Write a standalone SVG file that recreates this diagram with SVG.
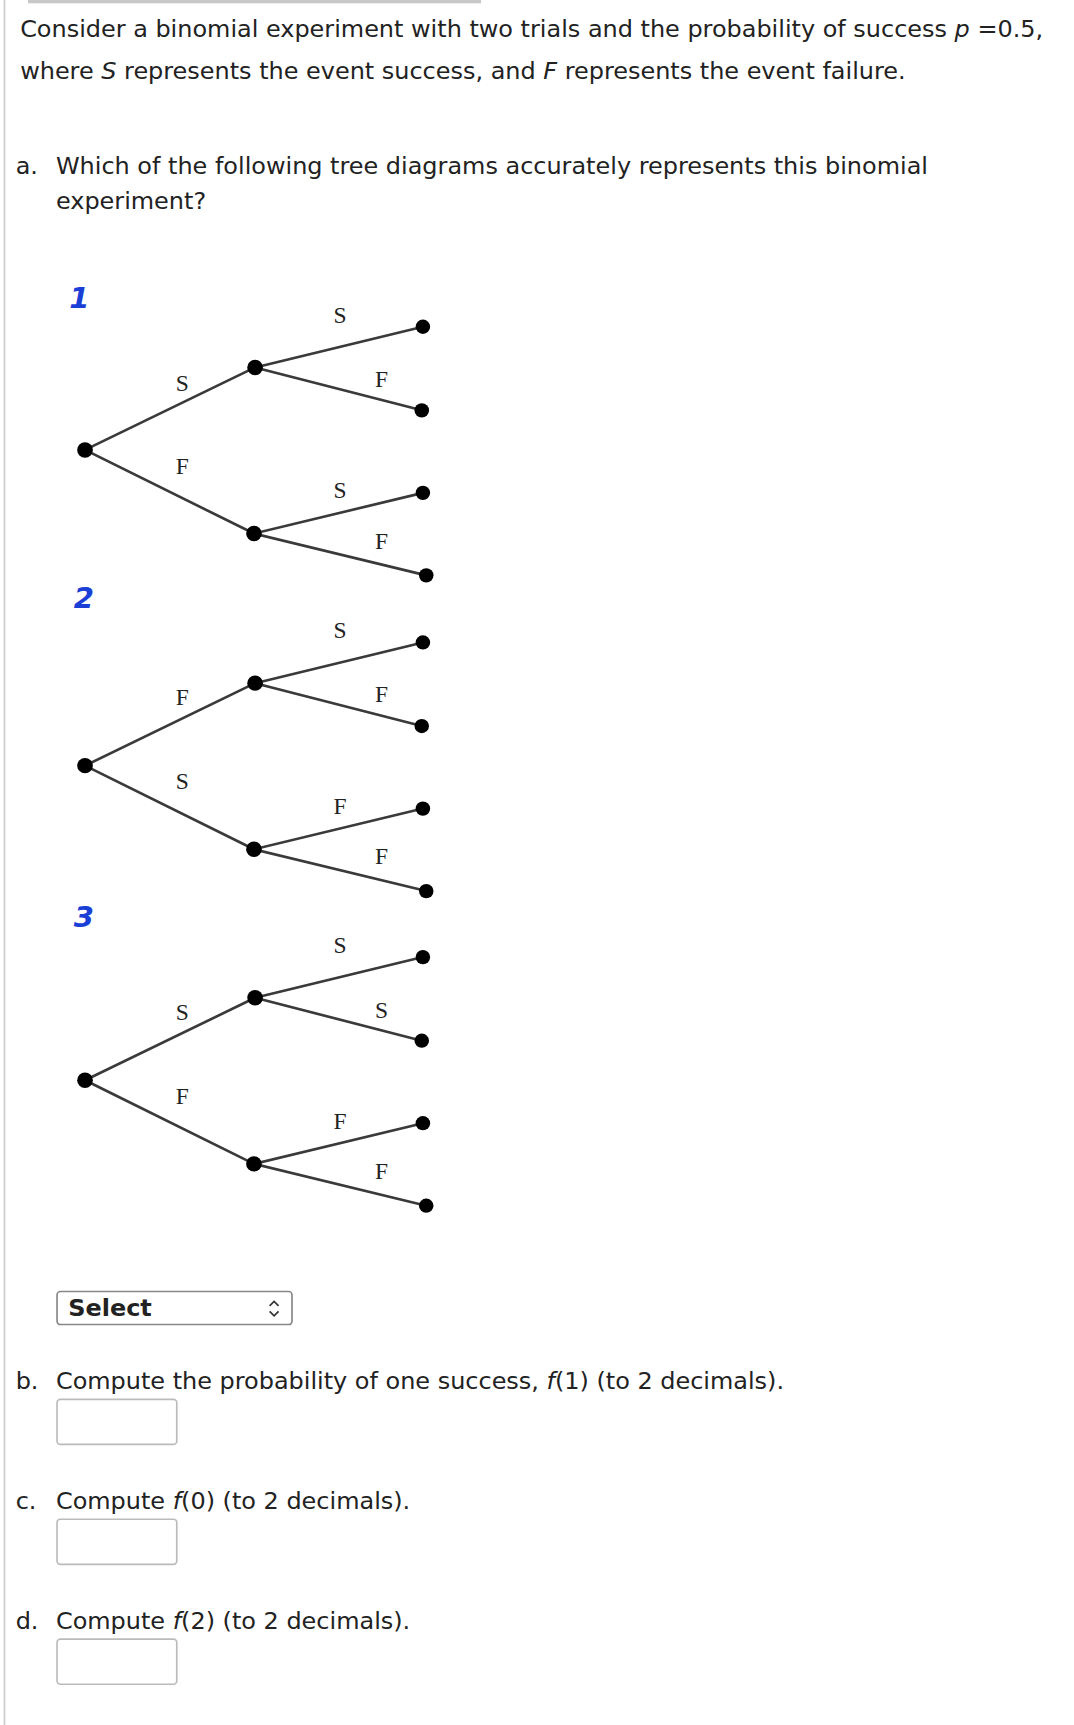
<svg xmlns="http://www.w3.org/2000/svg" width="1074" height="1725" viewBox="0 0 1074 1725">
<style>
.t{font-family:"DejaVu Sans",Verdana,sans-serif;font-size:21.4px;fill:#222}
.l{font-family:"Liberation Serif","Times New Roman",serif;font-size:21px;fill:#222}
.n{font-family:"DejaVu Sans",sans-serif;font-size:26px;font-weight:bold;font-style:italic;fill:#1a3fd6}
.e{stroke:#3a3a3a;stroke-width:2.4;fill:none}
.box{fill:#fff;stroke:#bbb;stroke-width:1.5}
</style>
<defs>
<g id="tree">
<g class="e"><path d="M76 0 L228 -75 M76 0 L227 76 M228 -75 L378 -112 M228 -75 L377 -36 M227 76 L378 39 M227 76 L381 114"/></g>
<g fill="#000"><circle cx="76" cy="0" r="7"/><circle cx="228" cy="-75" r="7"/><circle cx="227" cy="76" r="7"/><circle cx="378" cy="-112" r="6.5"/><circle cx="377" cy="-36" r="6.5"/><circle cx="378" cy="39" r="6.5"/><circle cx="381" cy="114" r="6.5"/></g>
</g>
</defs>
<rect width="1074" height="1725" fill="#fff"/>
<g transform="scale(1.11875,1.1001)">
<rect x="25" y="0" width="405" height="3" fill="#c8c8c8"/>
<line x1="4" y1="0" x2="4" y2="1568" stroke="#ccc" stroke-width="1.5"/>
<text class="t" x="18" y="34">Consider a binomial experiment with two trials and the probability of success <tspan font-style="italic">p</tspan> =0.5,</text>
<text class="t" x="18" y="72">where <tspan font-style="italic">S</tspan> represents the event success, and <tspan font-style="italic">F</tspan> represents the event failure.</text>
<text class="t" x="14" y="158">a.</text>
<text class="t" x="50" y="158">Which of the following tree diagrams accurately represents this binomial</text>
<text class="t" x="50" y="190">experiment?</text>
<g id="tree1">
<text class="n" x="62" y="280">1</text>
<use href="#tree" y="409"/>
<text class="l" x="163" y="355" text-anchor="middle">S</text><text class="l" x="163" y="431" text-anchor="middle">F</text>
<text class="l" x="304" y="294" text-anchor="middle">S</text><text class="l" x="341" y="352" text-anchor="middle">F</text>
<text class="l" x="304" y="453" text-anchor="middle">S</text><text class="l" x="341" y="499" text-anchor="middle">F</text>
</g>
<g id="tree2">
<text class="n" x="66" y="553">2</text>
<use href="#tree" y="696"/>
<text class="l" x="163" y="641" text-anchor="middle">F</text><text class="l" x="163" y="717" text-anchor="middle">S</text>
<text class="l" x="304" y="580" text-anchor="middle">S</text><text class="l" x="341" y="638" text-anchor="middle">F</text>
<text class="l" x="304" y="740" text-anchor="middle">F</text><text class="l" x="341" y="785" text-anchor="middle">F</text>
</g>
<g id="tree3">
<text class="n" x="66" y="843">3</text>
<use href="#tree" y="982"/>
<text class="l" x="163" y="927" text-anchor="middle">S</text><text class="l" x="163" y="1004" text-anchor="middle">F</text>
<text class="l" x="304" y="866" text-anchor="middle">S</text><text class="l" x="341" y="925" text-anchor="middle">S</text>
<text class="l" x="304" y="1026" text-anchor="middle">F</text><text class="l" x="341" y="1072" text-anchor="middle">F</text>
</g>
<g id="select">
<rect x="51" y="1174" width="210" height="30" rx="3" fill="#fff" stroke="#888" stroke-width="1.5"/>
<text class="t" x="61" y="1196" font-weight="bold" font-size="17">Select</text>
<path d="M241 1187 L245 1183 L249 1187 M241 1192 L245 1196 L249 1192" stroke="#333" stroke-width="1.5" fill="none"/>
</g>
<text class="t" x="14" y="1263">b.</text>
<text class="t" x="50" y="1263">Compute the probability of one success, <tspan font-style="italic">f</tspan>(1) (to 2 decimals).</text>
<rect class="box" x="51" y="1272" width="107" height="41" rx="3"/>
<text class="t" x="14" y="1372">c.</text>
<text class="t" x="50" y="1372">Compute <tspan font-style="italic">f</tspan>(0) (to 2 decimals).</text>
<rect class="box" x="51" y="1381" width="107" height="41" rx="3"/>
<text class="t" x="14" y="1481">d.</text>
<text class="t" x="50" y="1481">Compute <tspan font-style="italic">f</tspan>(2) (to 2 decimals).</text>
<rect class="box" x="51" y="1490" width="107" height="41" rx="3"/>
</g>
</svg>
